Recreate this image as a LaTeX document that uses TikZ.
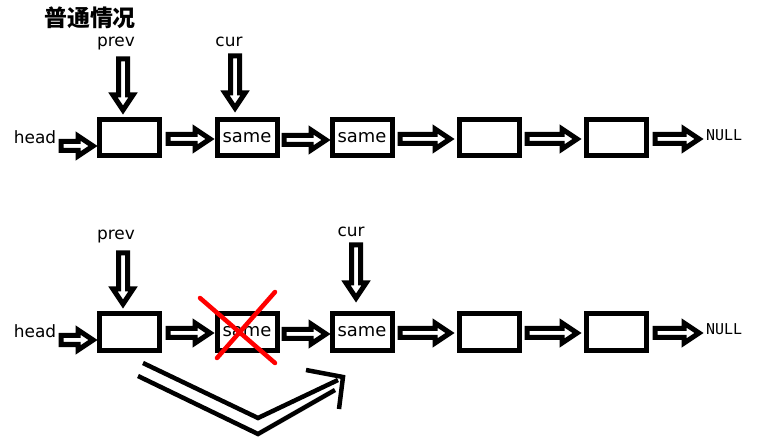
\documentclass[tikz,border=0pt]{standalone}
\usepackage{fontspec}
\setmainfont{DejaVu Sans}
\newfontfamily\cjk{Noto Sans CJK SC}
\newfontfamily\monof{DejaVu Sans Mono}
\newcommand{\harr}[4]{% x,y,length,angle
  \begin{scope}[shift={(#1,#2)},rotate=#4]
  \draw[line width=5bp,line join=miter] (0,-4.5) -- (#3-15,-4.5) -- (#3-15,-10) -- (#3,0) -- (#3-15,10) -- (#3-15,4.5) -- (0,4.5) -- cycle;
  \end{scope}}
\begin{document}
\begin{tikzpicture}[x=1bp,y=-1bp,
  box/.style={draw,line width=5bp,minimum width=60bp,minimum height=36bp,inner sep=0pt,text height=9bp,text depth=0bp,font=\fontsize{18}{18}\selectfont},
  lbl/.style={font=\fontsize{17}{17}\selectfont,inner sep=0pt},
  nul/.style={font=\monof\fontsize{15}{15}\selectfont,inner sep=0pt}]
\useasboundingbox (0,0) rectangle (760,440);
\node[font=\cjk\bfseries\fontsize{23}{23}\selectfont,anchor=west,inner sep=0pt] (title) at (44,18) {普通情况};
\foreach \n/\x/\t in {a/129/{},b/247/same,c/362/same,d/489/{},e/616/{}}{
  \node[box] (t\n) at (\x,138) {\t};
  \node[box] (b\n) at (\x,332) {\t};}
\node[lbl] (th) at (35,137) {head};
\node[lbl] (bh) at (35,331) {head};
\node[nul] (tn) at (724,135) {NULL};
\node[nul] (bn) at (724,329) {NULL};
\node[lbl] (tp) at (116,44) {prev};
\node[lbl] (tc) at (229,42) {cur};
\node[lbl] (bp) at (116,237) {prev};
\node[lbl] (bc) at (351,232) {cur};
\foreach \y in {0,194}{
  \harr{61}{146+\y}{32}{0}
  \harr{168}{139+\y}{42}{0}
  \harr{284}{140+\y}{42}{0}
  \harr{400}{139+\y}{50}{0}
  \harr{527}{139+\y}{50}{0}
  \harr{655}{139+\y}{44}{0}
}
\harr{123}{59}{51}{-90}
\harr{235}{56}{52}{-90}
\harr{123}{253}{51}{-90}
\harr{356}{245}{53}{-90}
\draw[red,line width=4.5bp,line cap=round] (200,298) -- (275,363);
\draw[red,line width=4.5bp,line cap=round] (275,292) -- (217,358);
\draw[line width=4.5bp] (143,363) -- (258,418) -- (338,380);
\draw[line width=4.5bp] (138,376) -- (258,434) -- (335,390);
\draw[line width=4.5bp] (306,370) -- (343,377) -- (339,409);
\end{tikzpicture}
\end{document}
